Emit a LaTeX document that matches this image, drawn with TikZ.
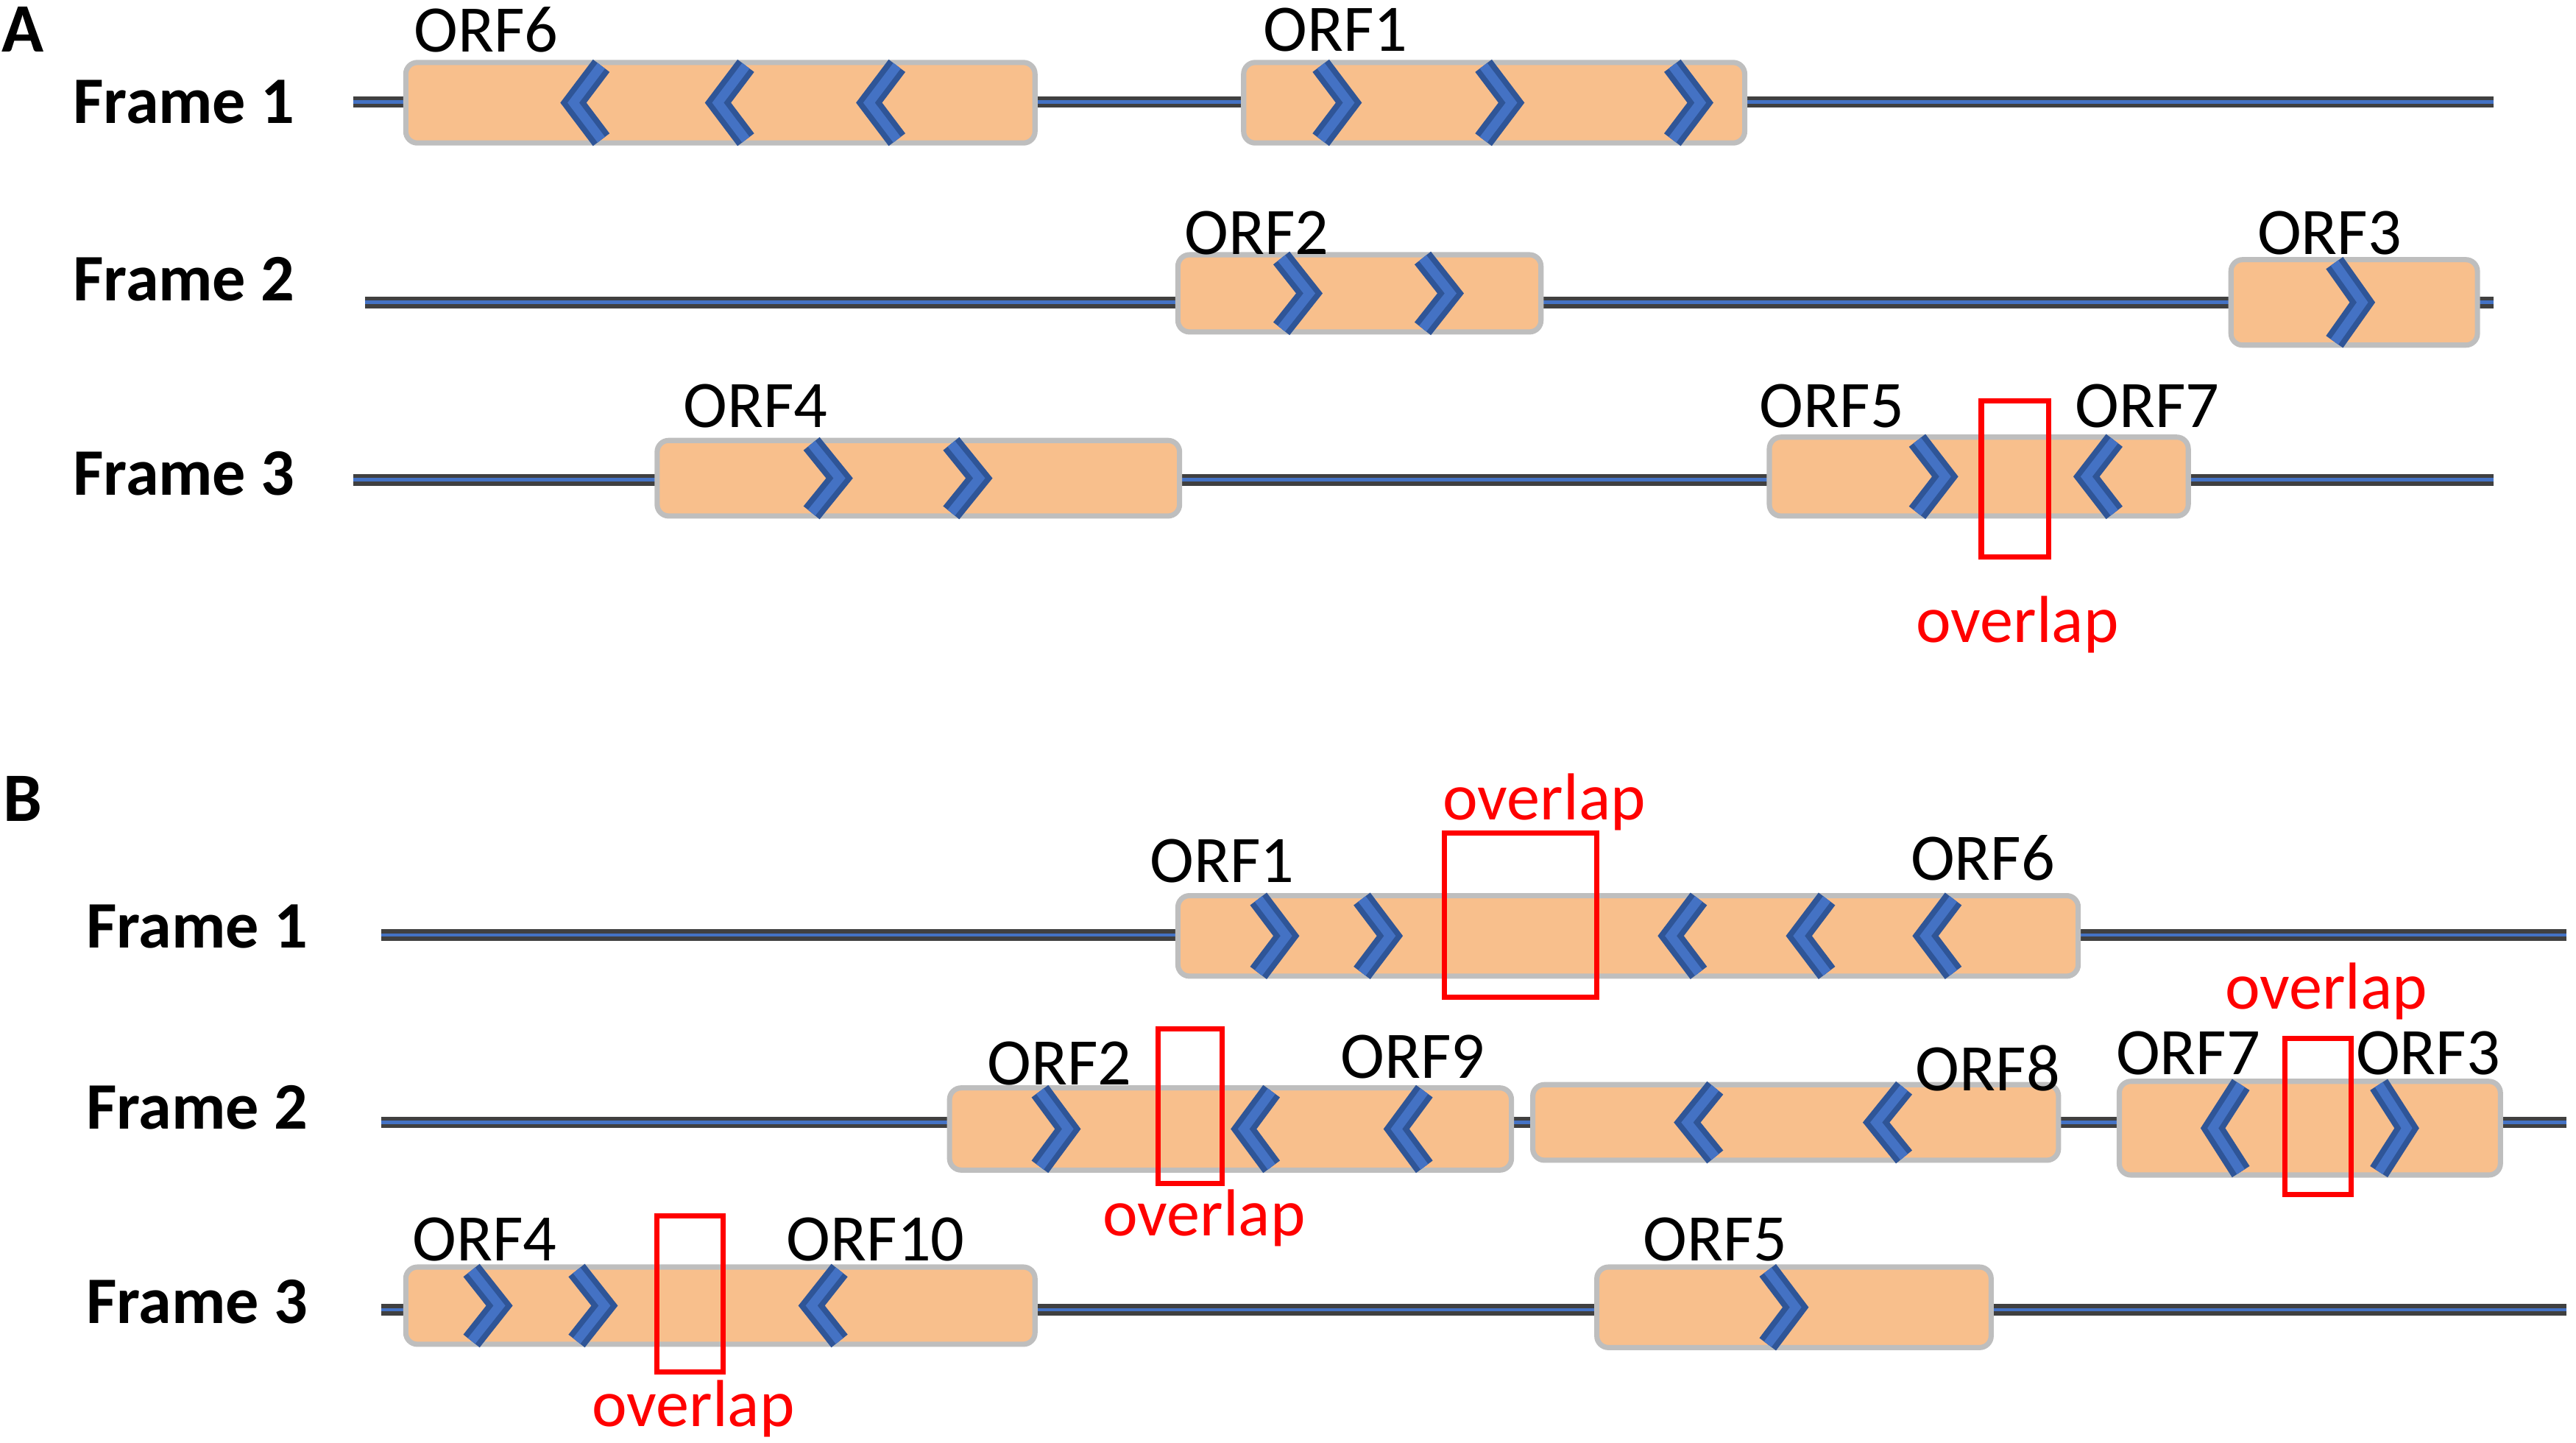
\documentclass[tikz,border=0pt]{standalone}
\usepackage{fontspec}
\setmainfont{Carlito}
\begin{document}
\begin{tikzpicture}[x=0.01cm, y=-0.01cm,
  seq/.style={draw={rgb,255:red,64;green,64;blue,64}, line width=2.0pt},
  seqin/.style={draw={rgb,255:red,68;green,114;blue,196}, line width=0.6pt},
  orf/.style={fill={rgb,255:red,248;green,191;blue,140}, draw={rgb,255:red,190;green,190;blue,190}, line width=0.9pt, rounded corners=2pt},
  lab/.style={font=\fontsize{11.5}{13}\selectfont, inner sep=0pt},
  fr/.style={font=\fontsize{11.5}{13}\selectfont\bfseries, inner sep=0pt},
  ov/.style={draw=red, line width=0.9pt},
  ovt/.style={font=\fontsize{11.5}{13}\selectfont, text=red, inner sep=0pt},
  chevo/.style={draw={rgb,255:red,47;green,85;blue,151}, line width=3.6pt, line join=miter},
  cheva/.style={draw={rgb,255:red,68;green,114;blue,196}, line width=1.6pt, line join=miter}]
\useasboundingbox (0,0) rectangle (1568,878);
% chevron: x, top, bottom, direction (+1 right, -1 left)
\newcommand{\chev}[4]{%
  \draw[chevo] ({#1-9*#4},{#2+2}) -- ({#1+8*#4},{(#2+#3)/2}) -- ({#1-9*#4},{#3-2});
  \draw[cheva] ({#1-9*#4},{#2+2}) -- ({#1+8*#4},{(#2+#3)/2}) -- ({#1-9*#4},{#3-2});}
\newcommand{\seqline}[3]{\draw[seq] (#1,#3) -- (#2,#3); \draw[seqin] (#1,#3) -- (#2,#3);}

% ---------- A ----------
\node[fr, font=\fontsize{12}{13}\selectfont\bfseries] (A) at (14,18) {A};
\node[fr] (a1) at (112,62) {Frame 1};
\node[fr] (a2) at (112,170) {Frame 2};
\node[fr] (a3) at (112,288) {Frame 3};
\seqline{215}{1518}{62}
\seqline{222}{1518}{184}
\seqline{215}{1518}{292}

\draw[orf] (247,38) rectangle (630,87);
\foreach \c in {357,445,537} {\chev{\c}{38}{87}{-1}}
\node[lab] (o6) at (296,18) {ORF6};
\draw[orf] (757,38) rectangle (1062,87);
\foreach \c in {813,912,1027} {\chev{\c}{38}{87}{1}}
\node[lab] (o1) at (813,18) {ORF1};

\draw[orf] (717,155) rectangle (938,202);
\foreach \c in {789,875} {\chev{\c}{155}{202}{1}}
\node[lab] (o2) at (765,142) {ORF2};
\draw[orf] (1358,158) rectangle (1508,210);
\chev{1430}{158}{210}{1}
\node[lab] (o3) at (1418,142) {ORF3};

\draw[orf] (400,268) rectangle (718,314);
\foreach \c in {503,588} {\chev{\c}{268}{314}{1}}
\node[lab] (o4) at (460,247) {ORF4};
\draw[orf] (1077,266) rectangle (1332,314);
\chev{1176}{266}{314}{1}
\chev{1278}{266}{314}{-1}
\node[lab] (o5) at (1115,247) {ORF5};
\node[lab] (o7) at (1307,247) {ORF7};
\draw[ov] (1206,244) rectangle (1247,339);
\node[ovt] (ova) at (1228,380) {overlap};

% ---------- B ----------
\node[fr, font=\fontsize{12}{13}\selectfont\bfseries] (B) at (14,486) {B};
\node[fr] (b1) at (120,564) {Frame 1};
\node[fr] (b2) at (120,674) {Frame 2};
\node[fr] (b3) at (120,792) {Frame 3};
\seqline{232}{1562}{569}
\seqline{232}{1562}{683}
\seqline{232}{1562}{797}

\draw[orf] (717,545) rectangle (1265,594);
\foreach \c in {775,838} {\chev{\c}{545}{594}{1}}
\foreach \c in {1025,1103,1180} {\chev{\c}{545}{594}{-1}}
\node[lab] (p1) at (744,524) {ORF1};
\node[lab] (p6) at (1207,522) {ORF6};
\draw[ov] (879,507) rectangle (972,607);
\node[ovt] (ovb1) at (940,488) {overlap};

\draw[orf] (578,662) rectangle (920,712);
\chev{642}{662}{712}{1}
\foreach \c in {765,858} {\chev{\c}{662}{712}{-1}}
\node[lab] (p2) at (645,647) {ORF2};
\node[lab] (p9) at (860,643) {ORF9};
\draw[ov] (705,626) rectangle (744,720);
\node[ovt] (ovb2) at (733,741) {overlap};

\draw[orf] (933,660) rectangle (1253,706);
\foreach \c in {1035,1150} {\chev{\c}{660}{706}{-1}}
\node[lab] (p8) at (1210,650) {ORF8};

\draw[orf] (1290,658) rectangle (1522,715);
\chev{1355}{658}{715}{-1}
\chev{1457}{658}{715}{1}
\node[lab] (p7) at (1332,641) {ORF7};
\node[lab] (p3) at (1478,641) {ORF3};
\draw[ov] (1391,632) rectangle (1431,727);
\node[ovt] (ovb3) at (1416,603) {overlap};

\draw[orf] (247,771) rectangle (630,818);
\foreach \c in {296,360} {\chev{\c}{771}{818}{1}}
\chev{502}{771}{818}{-1}
\node[lab] (p4) at (295,754) {ORF4};
\node[lab] (p10) at (533,754) {ORF10};
\draw[ov] (400,740) rectangle (440,835);
\node[ovt] (ovb4) at (422,857) {overlap};

\draw[orf] (972,771) rectangle (1212,820);
\chev{1085}{771}{820}{1}
\node[lab] (p5) at (1044,754) {ORF5};
\end{tikzpicture}
\end{document}
